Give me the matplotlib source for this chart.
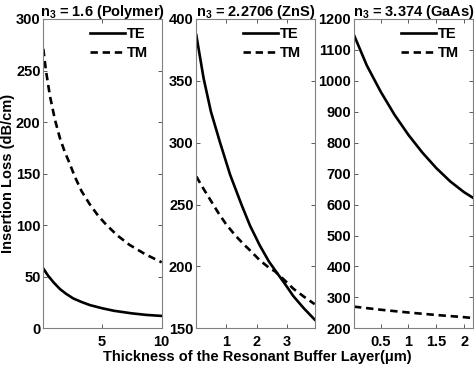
import numpy as np
import matplotlib
matplotlib.use('Agg')
import matplotlib.pyplot as plt

plt.rcParams['font.family'] = ['Liberation Sans', 'DejaVu Sans']
plt.rcParams['font.weight'] = 'bold'
plt.rcParams['mathtext.fontset'] = 'custom'
plt.rcParams['mathtext.rm'] = 'Liberation Sans:bold'
plt.rcParams['mathtext.it'] = 'Liberation Sans:bold'
plt.rcParams['mathtext.bf'] = 'Liberation Sans:bold'
plt.rcParams['mathtext.default'] = 'rm'

# Panel 1: n3 = 1.6 (Polymer)
x1_te = [0.1, 0.5, 1.0, 1.5, 2.0, 2.6, 3.3, 4.0, 5.0, 6.0, 7.5, 8.7, 10]
te1 = [58, 51, 44, 38, 33.5, 29, 25.5, 22.5, 19.5, 17, 14.5, 13, 12]
x1_tm = [0.1, 0.32, 0.66, 1.08, 1.5, 1.9, 2.3, 2.74, 3.3, 4.0, 4.7, 5.4, 6.3, 7.3, 8.6, 10]
tm1 = [271, 250, 225, 202, 184, 171, 160, 147, 133, 120, 109, 100, 90, 81, 72, 64]

# Panel 2: n3 = 2.2706 (ZnS)
x2_te = [0.02, 0.26, 0.5, 0.8, 1.13, 1.5, 1.78, 2.1, 2.4, 2.6, 2.95, 3.2, 3.55, 3.9]
te2 = [387, 352, 325, 300, 274, 250, 233, 217, 204, 197, 185, 176, 166, 157]
x2_tm = [0.02, 0.25, 0.5, 0.75, 1.0, 1.3, 1.57, 1.78, 2.1, 2.4, 2.6, 2.95, 3.2, 3.55, 3.9]
tm2 = [272.7, 263, 253, 243, 234, 225, 218, 213, 205, 199, 196, 188, 182, 175.5, 169.5]

# Panel 3: n3 = 3.374 (GaAs)
x3_te = [0.02, 0.25, 0.5, 0.75, 1.0, 1.25, 1.5, 1.75, 2.0, 2.16]
te3 = [1148, 1050, 965, 890, 825, 768, 718, 675, 640, 622]
x3_tm = [0.02, 0.5, 1.0, 1.5, 2.0, 2.16]
tm3 = [270, 260, 251, 243, 236, 233]

titles = ['n$_3$ = 1.6 (Polymer)', 'n$_3$ = 2.2706 (ZnS)', 'n$_3$ = 3.374 (GaAs)']

W, H = 474, 365
fig = plt.figure(figsize=(W / 100, H / 100), dpi=100)

boxes = [(43.3, 161.7), (196.3, 314.7), (354, 473)]
top_px, bot_px = 19, 328.3
axes = []
for (l, r) in boxes:
    ax = fig.add_axes([l / W, 1 - bot_px / H, (r - l) / W, (bot_px - top_px) / H])
    axes.append(ax)

panels = [
    (x1_te, te1, x1_tm, tm1, (0.1, 10), (0, 300), [5, 10], np.arange(0, 301, 50)),
    (x2_te, te2, x2_tm, tm2, (0.02, 3.9), (150, 400), [1, 2, 3], np.arange(150, 401, 50)),
    (x3_te, te3, x3_tm, tm3, (0.02, 2.16), (200, 1200), [0.5, 1, 1.5, 2], np.arange(200, 1201, 100)),
]

for ax, (xte, yte, xtm, ytm, xl, yl, xt, yt), title in zip(axes, panels, titles):
    ax.plot(xte, yte, color='black', lw=1.9, label='TE')
    ax.plot(xtm, ytm, color='black', lw=1.9, ls=(0, (2.8, 1.8)), label='TM')
    ax.set_xlim(*xl)
    ax.set_ylim(*yl)
    ax.set_xticks(xt)
    ax.set_xticklabels([f'{v:g}' for v in xt])
    ax.set_yticks(yt)
    ax.tick_params(direction='in', length=3, width=0.6, top=True, right=True,
                   labelsize=10.5, colors='#404040', labelcolor='black', pad=2)
    ax.tick_params(axis='x', pad=4.5)
    for s in ax.spines.values():
        s.set_color('#808080')
        s.set_linewidth(0.8)
    ax.set_title(title, fontsize=10.5, fontweight='bold', pad=2)
    ax.legend(loc='upper right', bbox_to_anchor=(0.885, 0.975), frameon=False,
              fontsize=10.5, handlelength=2.4, handletextpad=0.15,
              borderaxespad=0, borderpad=0, labelspacing=0.35)

axes[0].set_ylabel('Insertion Loss (dB/cm)', fontsize=10.5, fontweight='bold', labelpad=1)
fig.text(257 / W, 1 - 357.5 / H, 'Thickness of the Resonant Buffer Layer(\u03bcm)',
         ha='center', va='center', fontsize=10.5, fontweight='bold')

fig.savefig('out.png', dpi=100)
